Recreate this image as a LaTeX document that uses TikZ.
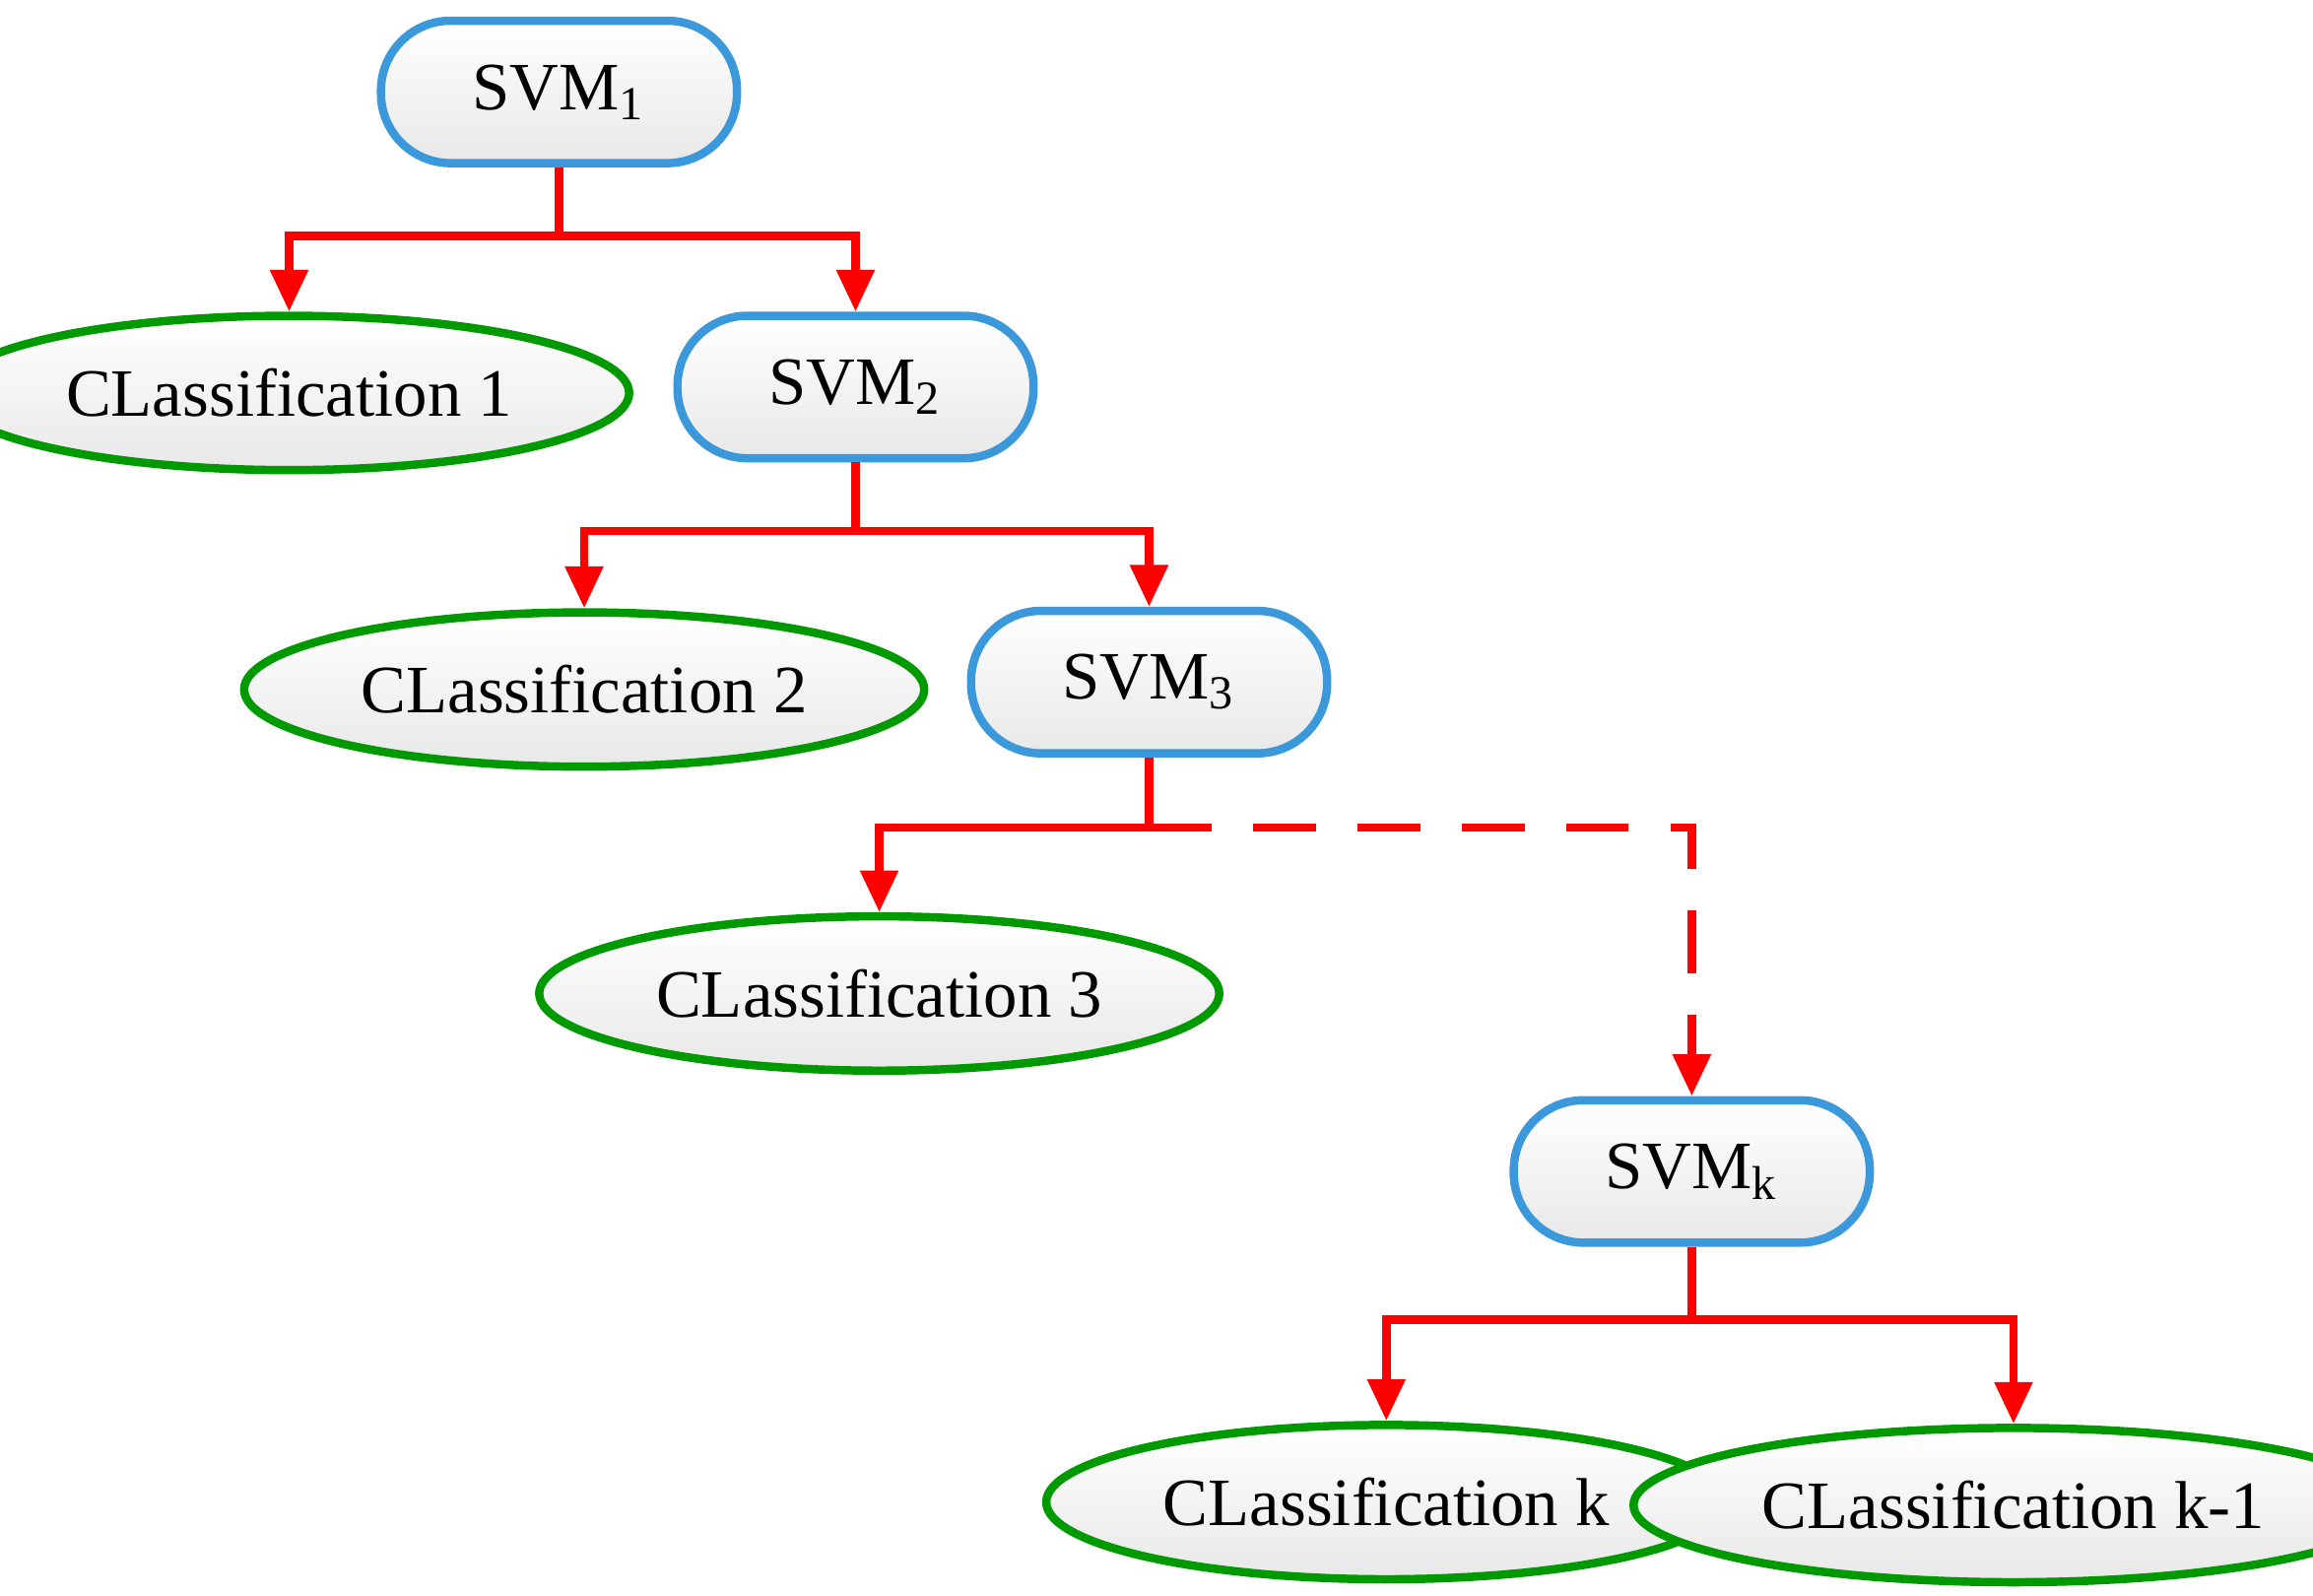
\documentclass[tikz,border=0pt]{standalone}
\usepackage{fontspec}
\setmainfont{Liberation Serif}
\usetikzlibrary{shapes.geometric,arrows.meta}
\begin{document}
\begin{tikzpicture}[x=0.01cm,y=-0.01cm,
  svm/.style={draw=cyan!70!blue!80,line width=1.6pt,rounded corners=0.47cm,minimum width=2.4cm,minimum height=0.96cm,top color=white,bottom color=gray!18,font=\fontsize{13}{15}\selectfont},
  cls/.style={ellipse,draw=green!60!black,line width=1.6pt,minimum width=3.66cm,minimum height=1.04cm,top color=white,bottom color=gray!18,font=\fontsize{13}{15}\selectfont},
  conn/.style={red,line width=1.6pt,-{Triangle[length=8pt,width=7pt]}}]
\useasboundingbox (0,0) rectangle (1560,1076);
\node[svm] (s1) at (377,62) {SVM\textsubscript{1}};
\node[svm] (s2) at (577,261) {SVM\textsubscript{2}};
\node[svm] (s3) at (775,460) {SVM\textsubscript{3}};
\node[svm] (sk) at (1141,790) {SVM\textsubscript{k}};
\node[cls] (c1) at (195,265) {CLassification 1};
\node[cls] (c2) at (394,465) {CLassification 2};
\node[cls] (c3) at (593,670) {CLassification 3};
\node[cls] (ck) at (935,1013) {CLassification k};
\node[cls,minimum width=3.9cm] (ck1) at (1358,1015) {CLassification k-1};
\draw[conn] (s1.south) |- (195,159) -- (c1.north);
\draw[conn] (s1.south) |- (577,159) -- (s2.north);
\draw[conn] (s2.south) |- (394,358) -- (c2.north);
\draw[conn] (s2.south) |- (775,358) -- (s3.north);
\draw[conn] (s3.south) |- (593,558) -- (c3.north);
\draw[conn,dash pattern=on 12pt off 8pt] (775,558) -- (1141,558) -- (sk.north);
\draw[conn] (sk.south) |- (935,890) -- (ck.north);
\draw[conn] (sk.south) |- (1358,890) -- (ck1.north);
\end{tikzpicture}
\end{document}
